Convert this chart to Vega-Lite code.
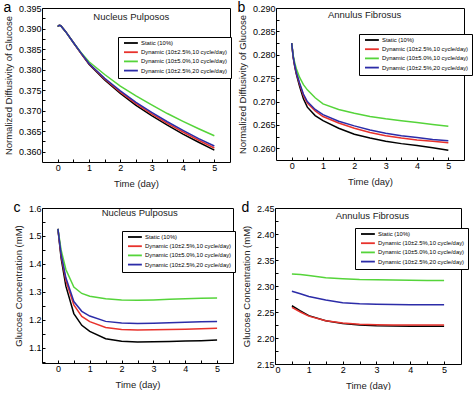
{
  "$schema": "https://vega.github.io/schema/vega-lite/v6.json",
  "background": "white",
  "padding": {"left": 2, "top": 0, "right": 0, "bottom": 0},
  "config": {
    "font": "Liberation Sans",
    "view": {"stroke": "black", "strokeWidth": 1},
    "axis": {"grid": false, "domain": false, "tickColor": "black", "tickSize": -3, "tickCount": 60, "labelFontSize": 9, "labelColor": "black", "labelOverlap": false, "titleFontSize": 9.5, "titleFontWeight": "normal", "titleColor": "#222", "labelPadding": 4, "titlePadding": 5},
    "axisX": {"labelPadding": 4, "titlePadding": 6},
    "legend": {"strokeColor": "black", "fillColor": "white", "padding": 3, "labelFontSize": 5.9, "labelColor": "black", "symbolType": "M0,0H8", "symbolSize": 12, "symbolStrokeWidth": 1.8, "rowPadding": 1.2, "labelOffset": 14, "labelLimit": 200},
    "title": {"fontSize": 14, "fontWeight": "normal", "color": "black", "anchor": "start", "frame": "bounds", "offset": -11}
  },
  "datasets": {
    "a": [
      {"s": "Static  (10%)", "t": 0, "v": 0.3905}, {"s": "Static  (10%)", "t": 0.05, "v": 0.3908}, {"s": "Static  (10%)", "t": 0.1, "v": 0.3907}, {"s": "Static  (10%)", "t": 0.25, "v": 0.3893}, {"s": "Static  (10%)", "t": 0.5, "v": 0.3866}, {"s": "Static  (10%)", "t": 0.75, "v": 0.3839}, {"s": "Static  (10%)", "t": 1, "v": 0.3813}, {"s": "Static  (10%)", "t": 1.5, "v": 0.3775}, {"s": "Static  (10%)", "t": 2, "v": 0.3742}, {"s": "Static  (10%)", "t": 2.5, "v": 0.3713}, {"s": "Static  (10%)", "t": 3, "v": 0.3688}, {"s": "Static  (10%)", "t": 3.5, "v": 0.3665}, {"s": "Static  (10%)", "t": 4, "v": 0.3643}, {"s": "Static  (10%)", "t": 4.5, "v": 0.3623}, {"s": "Static  (10%)", "t": 5, "v": 0.3604},
      {"s": "Dynamic (10±2.5%,10 cycle/day)", "t": 0, "v": 0.3905}, {"s": "Dynamic (10±2.5%,10 cycle/day)", "t": 0.05, "v": 0.3908}, {"s": "Dynamic (10±2.5%,10 cycle/day)", "t": 0.1, "v": 0.3907}, {"s": "Dynamic (10±2.5%,10 cycle/day)", "t": 0.25, "v": 0.3893}, {"s": "Dynamic (10±2.5%,10 cycle/day)", "t": 0.5, "v": 0.3866}, {"s": "Dynamic (10±2.5%,10 cycle/day)", "t": 0.75, "v": 0.3839}, {"s": "Dynamic (10±2.5%,10 cycle/day)", "t": 1, "v": 0.3814}, {"s": "Dynamic (10±2.5%,10 cycle/day)", "t": 1.5, "v": 0.3777}, {"s": "Dynamic (10±2.5%,10 cycle/day)", "t": 2, "v": 0.3745}, {"s": "Dynamic (10±2.5%,10 cycle/day)", "t": 2.5, "v": 0.3717}, {"s": "Dynamic (10±2.5%,10 cycle/day)", "t": 3, "v": 0.3692}, {"s": "Dynamic (10±2.5%,10 cycle/day)", "t": 3.5, "v": 0.3669}, {"s": "Dynamic (10±2.5%,10 cycle/day)", "t": 4, "v": 0.3648}, {"s": "Dynamic (10±2.5%,10 cycle/day)", "t": 4.5, "v": 0.3628}, {"s": "Dynamic (10±2.5%,10 cycle/day)", "t": 5, "v": 0.3609},
      {"s": "Dynamic (10±5.0%,10 cycle/day)", "t": 0, "v": 0.3905}, {"s": "Dynamic (10±5.0%,10 cycle/day)", "t": 0.05, "v": 0.3908}, {"s": "Dynamic (10±5.0%,10 cycle/day)", "t": 0.1, "v": 0.3907}, {"s": "Dynamic (10±5.0%,10 cycle/day)", "t": 0.25, "v": 0.3893}, {"s": "Dynamic (10±5.0%,10 cycle/day)", "t": 0.5, "v": 0.3866}, {"s": "Dynamic (10±5.0%,10 cycle/day)", "t": 0.75, "v": 0.3841}, {"s": "Dynamic (10±5.0%,10 cycle/day)", "t": 1, "v": 0.3819}, {"s": "Dynamic (10±5.0%,10 cycle/day)", "t": 1.5, "v": 0.3788}, {"s": "Dynamic (10±5.0%,10 cycle/day)", "t": 2, "v": 0.3760}, {"s": "Dynamic (10±5.0%,10 cycle/day)", "t": 2.5, "v": 0.3736}, {"s": "Dynamic (10±5.0%,10 cycle/day)", "t": 3, "v": 0.3714}, {"s": "Dynamic (10±5.0%,10 cycle/day)", "t": 3.5, "v": 0.3693}, {"s": "Dynamic (10±5.0%,10 cycle/day)", "t": 4, "v": 0.3674}, {"s": "Dynamic (10±5.0%,10 cycle/day)", "t": 4.5, "v": 0.3656}, {"s": "Dynamic (10±5.0%,10 cycle/day)", "t": 5, "v": 0.3639},
      {"s": "Dynamic (10±2.5%,20 cycle/day)", "t": 0, "v": 0.3905}, {"s": "Dynamic (10±2.5%,20 cycle/day)", "t": 0.05, "v": 0.3908}, {"s": "Dynamic (10±2.5%,20 cycle/day)", "t": 0.1, "v": 0.3907}, {"s": "Dynamic (10±2.5%,20 cycle/day)", "t": 0.25, "v": 0.3893}, {"s": "Dynamic (10±2.5%,20 cycle/day)", "t": 0.5, "v": 0.3866}, {"s": "Dynamic (10±2.5%,20 cycle/day)", "t": 0.75, "v": 0.3840}, {"s": "Dynamic (10±2.5%,20 cycle/day)", "t": 1, "v": 0.3815}, {"s": "Dynamic (10±2.5%,20 cycle/day)", "t": 1.5, "v": 0.3779}, {"s": "Dynamic (10±2.5%,20 cycle/day)", "t": 2, "v": 0.3748}, {"s": "Dynamic (10±2.5%,20 cycle/day)", "t": 2.5, "v": 0.3720}, {"s": "Dynamic (10±2.5%,20 cycle/day)", "t": 3, "v": 0.3696}, {"s": "Dynamic (10±2.5%,20 cycle/day)", "t": 3.5, "v": 0.3673}, {"s": "Dynamic (10±2.5%,20 cycle/day)", "t": 4, "v": 0.3652}, {"s": "Dynamic (10±2.5%,20 cycle/day)", "t": 4.5, "v": 0.3632}, {"s": "Dynamic (10±2.5%,20 cycle/day)", "t": 5, "v": 0.3614}
    ],
    "b": [
      {"s": "Static  (10%)", "t": 0, "v": 0.2825}, {"s": "Static  (10%)", "t": 0.05, "v": 0.2794}, {"s": "Static  (10%)", "t": 0.1, "v": 0.2774}, {"s": "Static  (10%)", "t": 0.15, "v": 0.2758}, {"s": "Static  (10%)", "t": 0.25, "v": 0.2733}, {"s": "Static  (10%)", "t": 0.375, "v": 0.2706}, {"s": "Static  (10%)", "t": 0.5, "v": 0.2688}, {"s": "Static  (10%)", "t": 0.75, "v": 0.2670}, {"s": "Static  (10%)", "t": 1, "v": 0.2659}, {"s": "Static  (10%)", "t": 1.5, "v": 0.2643}, {"s": "Static  (10%)", "t": 2, "v": 0.2630}, {"s": "Static  (10%)", "t": 2.5, "v": 0.2622}, {"s": "Static  (10%)", "t": 3, "v": 0.2615}, {"s": "Static  (10%)", "t": 3.5, "v": 0.2610}, {"s": "Static  (10%)", "t": 4, "v": 0.2606}, {"s": "Static  (10%)", "t": 4.5, "v": 0.2601}, {"s": "Static  (10%)", "t": 5, "v": 0.2596},
      {"s": "Dynamic (10±2.5%,10 cycle/day)", "t": 0, "v": 0.2825}, {"s": "Dynamic (10±2.5%,10 cycle/day)", "t": 0.05, "v": 0.2795}, {"s": "Dynamic (10±2.5%,10 cycle/day)", "t": 0.1, "v": 0.2776}, {"s": "Dynamic (10±2.5%,10 cycle/day)", "t": 0.15, "v": 0.2761}, {"s": "Dynamic (10±2.5%,10 cycle/day)", "t": 0.25, "v": 0.2738}, {"s": "Dynamic (10±2.5%,10 cycle/day)", "t": 0.375, "v": 0.2713}, {"s": "Dynamic (10±2.5%,10 cycle/day)", "t": 0.5, "v": 0.2697}, {"s": "Dynamic (10±2.5%,10 cycle/day)", "t": 0.75, "v": 0.2680}, {"s": "Dynamic (10±2.5%,10 cycle/day)", "t": 1, "v": 0.2668}, {"s": "Dynamic (10±2.5%,10 cycle/day)", "t": 1.5, "v": 0.2654}, {"s": "Dynamic (10±2.5%,10 cycle/day)", "t": 2, "v": 0.2643}, {"s": "Dynamic (10±2.5%,10 cycle/day)", "t": 2.5, "v": 0.2634}, {"s": "Dynamic (10±2.5%,10 cycle/day)", "t": 3, "v": 0.2627}, {"s": "Dynamic (10±2.5%,10 cycle/day)", "t": 3.5, "v": 0.2622}, {"s": "Dynamic (10±2.5%,10 cycle/day)", "t": 4, "v": 0.2618}, {"s": "Dynamic (10±2.5%,10 cycle/day)", "t": 4.5, "v": 0.2615}, {"s": "Dynamic (10±2.5%,10 cycle/day)", "t": 5, "v": 0.2612},
      {"s": "Dynamic (10±5.0%,10 cycle/day)", "t": 0, "v": 0.2825}, {"s": "Dynamic (10±5.0%,10 cycle/day)", "t": 0.05, "v": 0.2798}, {"s": "Dynamic (10±5.0%,10 cycle/day)", "t": 0.1, "v": 0.2782}, {"s": "Dynamic (10±5.0%,10 cycle/day)", "t": 0.15, "v": 0.2770}, {"s": "Dynamic (10±5.0%,10 cycle/day)", "t": 0.25, "v": 0.2752}, {"s": "Dynamic (10±5.0%,10 cycle/day)", "t": 0.375, "v": 0.2736}, {"s": "Dynamic (10±5.0%,10 cycle/day)", "t": 0.5, "v": 0.2725}, {"s": "Dynamic (10±5.0%,10 cycle/day)", "t": 0.75, "v": 0.2708}, {"s": "Dynamic (10±5.0%,10 cycle/day)", "t": 1, "v": 0.2695}, {"s": "Dynamic (10±5.0%,10 cycle/day)", "t": 1.5, "v": 0.2683}, {"s": "Dynamic (10±5.0%,10 cycle/day)", "t": 2, "v": 0.2675}, {"s": "Dynamic (10±5.0%,10 cycle/day)", "t": 2.5, "v": 0.2668}, {"s": "Dynamic (10±5.0%,10 cycle/day)", "t": 3, "v": 0.2663}, {"s": "Dynamic (10±5.0%,10 cycle/day)", "t": 3.5, "v": 0.2659}, {"s": "Dynamic (10±5.0%,10 cycle/day)", "t": 4, "v": 0.2655}, {"s": "Dynamic (10±5.0%,10 cycle/day)", "t": 4.5, "v": 0.2651}, {"s": "Dynamic (10±5.0%,10 cycle/day)", "t": 5, "v": 0.2647},
      {"s": "Dynamic (10±2.5%,20 cycle/day)", "t": 0, "v": 0.2825}, {"s": "Dynamic (10±2.5%,20 cycle/day)", "t": 0.05, "v": 0.2796}, {"s": "Dynamic (10±2.5%,20 cycle/day)", "t": 0.1, "v": 0.2777}, {"s": "Dynamic (10±2.5%,20 cycle/day)", "t": 0.15, "v": 0.2762}, {"s": "Dynamic (10±2.5%,20 cycle/day)", "t": 0.25, "v": 0.2740}, {"s": "Dynamic (10±2.5%,20 cycle/day)", "t": 0.375, "v": 0.2716}, {"s": "Dynamic (10±2.5%,20 cycle/day)", "t": 0.5, "v": 0.2700}, {"s": "Dynamic (10±2.5%,20 cycle/day)", "t": 0.75, "v": 0.2683}, {"s": "Dynamic (10±2.5%,20 cycle/day)", "t": 1, "v": 0.2672}, {"s": "Dynamic (10±2.5%,20 cycle/day)", "t": 1.5, "v": 0.2658}, {"s": "Dynamic (10±2.5%,20 cycle/day)", "t": 2, "v": 0.2648}, {"s": "Dynamic (10±2.5%,20 cycle/day)", "t": 2.5, "v": 0.2639}, {"s": "Dynamic (10±2.5%,20 cycle/day)", "t": 3, "v": 0.2632}, {"s": "Dynamic (10±2.5%,20 cycle/day)", "t": 3.5, "v": 0.2627}, {"s": "Dynamic (10±2.5%,20 cycle/day)", "t": 4, "v": 0.2623}, {"s": "Dynamic (10±2.5%,20 cycle/day)", "t": 4.5, "v": 0.2619}, {"s": "Dynamic (10±2.5%,20 cycle/day)", "t": 5, "v": 0.2616}
    ],
    "c": [
      {"s": "Static  (10%)", "t": 0, "v": 1.525}, {"s": "Static  (10%)", "t": 0.1, "v": 1.42}, {"s": "Static  (10%)", "t": 0.25, "v": 1.32}, {"s": "Static  (10%)", "t": 0.5, "v": 1.222}, {"s": "Static  (10%)", "t": 0.75, "v": 1.18}, {"s": "Static  (10%)", "t": 1, "v": 1.158}, {"s": "Static  (10%)", "t": 1.5, "v": 1.132}, {"s": "Static  (10%)", "t": 2, "v": 1.123}, {"s": "Static  (10%)", "t": 2.5, "v": 1.120}, {"s": "Static  (10%)", "t": 3, "v": 1.121}, {"s": "Static  (10%)", "t": 3.5, "v": 1.122}, {"s": "Static  (10%)", "t": 4, "v": 1.124}, {"s": "Static  (10%)", "t": 4.5, "v": 1.125}, {"s": "Static  (10%)", "t": 5, "v": 1.127},
      {"s": "Dynamic (10±2.5%,10 cycle/day)", "t": 0, "v": 1.525}, {"s": "Dynamic (10±2.5%,10 cycle/day)", "t": 0.1, "v": 1.43}, {"s": "Dynamic (10±2.5%,10 cycle/day)", "t": 0.25, "v": 1.34}, {"s": "Dynamic (10±2.5%,10 cycle/day)", "t": 0.5, "v": 1.253}, {"s": "Dynamic (10±2.5%,10 cycle/day)", "t": 0.75, "v": 1.212}, {"s": "Dynamic (10±2.5%,10 cycle/day)", "t": 1, "v": 1.193}, {"s": "Dynamic (10±2.5%,10 cycle/day)", "t": 1.5, "v": 1.172}, {"s": "Dynamic (10±2.5%,10 cycle/day)", "t": 2, "v": 1.165}, {"s": "Dynamic (10±2.5%,10 cycle/day)", "t": 2.5, "v": 1.163}, {"s": "Dynamic (10±2.5%,10 cycle/day)", "t": 3, "v": 1.164}, {"s": "Dynamic (10±2.5%,10 cycle/day)", "t": 3.5, "v": 1.165}, {"s": "Dynamic (10±2.5%,10 cycle/day)", "t": 4, "v": 1.166}, {"s": "Dynamic (10±2.5%,10 cycle/day)", "t": 4.5, "v": 1.168}, {"s": "Dynamic (10±2.5%,10 cycle/day)", "t": 5, "v": 1.169},
      {"s": "Dynamic (10±5.0%,10 cycle/day)", "t": 0, "v": 1.525}, {"s": "Dynamic (10±5.0%,10 cycle/day)", "t": 0.1, "v": 1.45}, {"s": "Dynamic (10±5.0%,10 cycle/day)", "t": 0.25, "v": 1.38}, {"s": "Dynamic (10±5.0%,10 cycle/day)", "t": 0.5, "v": 1.317}, {"s": "Dynamic (10±5.0%,10 cycle/day)", "t": 0.75, "v": 1.294}, {"s": "Dynamic (10±5.0%,10 cycle/day)", "t": 1, "v": 1.284}, {"s": "Dynamic (10±5.0%,10 cycle/day)", "t": 1.5, "v": 1.275}, {"s": "Dynamic (10±5.0%,10 cycle/day)", "t": 2, "v": 1.271}, {"s": "Dynamic (10±5.0%,10 cycle/day)", "t": 2.5, "v": 1.270}, {"s": "Dynamic (10±5.0%,10 cycle/day)", "t": 3, "v": 1.271}, {"s": "Dynamic (10±5.0%,10 cycle/day)", "t": 3.5, "v": 1.273}, {"s": "Dynamic (10±5.0%,10 cycle/day)", "t": 4, "v": 1.275}, {"s": "Dynamic (10±5.0%,10 cycle/day)", "t": 4.5, "v": 1.277}, {"s": "Dynamic (10±5.0%,10 cycle/day)", "t": 5, "v": 1.278},
      {"s": "Dynamic (10±2.5%,20 cycle/day)", "t": 0, "v": 1.525}, {"s": "Dynamic (10±2.5%,20 cycle/day)", "t": 0.1, "v": 1.435}, {"s": "Dynamic (10±2.5%,20 cycle/day)", "t": 0.25, "v": 1.35}, {"s": "Dynamic (10±2.5%,20 cycle/day)", "t": 0.5, "v": 1.265}, {"s": "Dynamic (10±2.5%,20 cycle/day)", "t": 0.75, "v": 1.23}, {"s": "Dynamic (10±2.5%,20 cycle/day)", "t": 1, "v": 1.213}, {"s": "Dynamic (10±2.5%,20 cycle/day)", "t": 1.5, "v": 1.194}, {"s": "Dynamic (10±2.5%,20 cycle/day)", "t": 2, "v": 1.188}, {"s": "Dynamic (10±2.5%,20 cycle/day)", "t": 2.5, "v": 1.186}, {"s": "Dynamic (10±2.5%,20 cycle/day)", "t": 3, "v": 1.187}, {"s": "Dynamic (10±2.5%,20 cycle/day)", "t": 3.5, "v": 1.189}, {"s": "Dynamic (10±2.5%,20 cycle/day)", "t": 4, "v": 1.191}, {"s": "Dynamic (10±2.5%,20 cycle/day)", "t": 4.5, "v": 1.193}, {"s": "Dynamic (10±2.5%,20 cycle/day)", "t": 5, "v": 1.194}
    ],
    "d": [
      {"s": "Static  (10%)", "t": 0.5, "v": 2.262}, {"s": "Static  (10%)", "t": 0.75, "v": 2.252}, {"s": "Static  (10%)", "t": 1, "v": 2.243}, {"s": "Static  (10%)", "t": 1.5, "v": 2.233}, {"s": "Static  (10%)", "t": 2, "v": 2.228}, {"s": "Static  (10%)", "t": 2.5, "v": 2.225}, {"s": "Static  (10%)", "t": 3, "v": 2.2235}, {"s": "Static  (10%)", "t": 3.5, "v": 2.223}, {"s": "Static  (10%)", "t": 4, "v": 2.2225}, {"s": "Static  (10%)", "t": 4.5, "v": 2.2225}, {"s": "Static  (10%)", "t": 5, "v": 2.2225},
      {"s": "Dynamic (10±2.5%,10 cycle/day)", "t": 0.5, "v": 2.259}, {"s": "Dynamic (10±2.5%,10 cycle/day)", "t": 0.75, "v": 2.25}, {"s": "Dynamic (10±2.5%,10 cycle/day)", "t": 1, "v": 2.242}, {"s": "Dynamic (10±2.5%,10 cycle/day)", "t": 1.5, "v": 2.233}, {"s": "Dynamic (10±2.5%,10 cycle/day)", "t": 2, "v": 2.229}, {"s": "Dynamic (10±2.5%,10 cycle/day)", "t": 2.5, "v": 2.2265}, {"s": "Dynamic (10±2.5%,10 cycle/day)", "t": 3, "v": 2.2255}, {"s": "Dynamic (10±2.5%,10 cycle/day)", "t": 3.5, "v": 2.225}, {"s": "Dynamic (10±2.5%,10 cycle/day)", "t": 4, "v": 2.225}, {"s": "Dynamic (10±2.5%,10 cycle/day)", "t": 4.5, "v": 2.225}, {"s": "Dynamic (10±2.5%,10 cycle/day)", "t": 5, "v": 2.225},
      {"s": "Dynamic (10±5.0%,10 cycle/day)", "t": 0.5, "v": 2.323}, {"s": "Dynamic (10±5.0%,10 cycle/day)", "t": 0.75, "v": 2.322}, {"s": "Dynamic (10±5.0%,10 cycle/day)", "t": 1, "v": 2.32}, {"s": "Dynamic (10±5.0%,10 cycle/day)", "t": 1.5, "v": 2.316}, {"s": "Dynamic (10±5.0%,10 cycle/day)", "t": 2, "v": 2.314}, {"s": "Dynamic (10±5.0%,10 cycle/day)", "t": 2.5, "v": 2.3125}, {"s": "Dynamic (10±5.0%,10 cycle/day)", "t": 3, "v": 2.312}, {"s": "Dynamic (10±5.0%,10 cycle/day)", "t": 3.5, "v": 2.3115}, {"s": "Dynamic (10±5.0%,10 cycle/day)", "t": 4, "v": 2.311}, {"s": "Dynamic (10±5.0%,10 cycle/day)", "t": 4.5, "v": 2.3105}, {"s": "Dynamic (10±5.0%,10 cycle/day)", "t": 5, "v": 2.3105},
      {"s": "Dynamic (10±2.5%,20 cycle/day)", "t": 0.5, "v": 2.29}, {"s": "Dynamic (10±2.5%,20 cycle/day)", "t": 0.75, "v": 2.285}, {"s": "Dynamic (10±2.5%,20 cycle/day)", "t": 1, "v": 2.28}, {"s": "Dynamic (10±2.5%,20 cycle/day)", "t": 1.5, "v": 2.273}, {"s": "Dynamic (10±2.5%,20 cycle/day)", "t": 2, "v": 2.268}, {"s": "Dynamic (10±2.5%,20 cycle/day)", "t": 2.5, "v": 2.266}, {"s": "Dynamic (10±2.5%,20 cycle/day)", "t": 3, "v": 2.265}, {"s": "Dynamic (10±2.5%,20 cycle/day)", "t": 3.5, "v": 2.2645}, {"s": "Dynamic (10±2.5%,20 cycle/day)", "t": 4, "v": 2.264}, {"s": "Dynamic (10±2.5%,20 cycle/day)", "t": 4.5, "v": 2.264}, {"s": "Dynamic (10±2.5%,20 cycle/day)", "t": 5, "v": 2.264}
    ]
  },
  "vconcat": [
    {
      "hconcat": [
        {
          "width": 188, "height": 154,
          "title": {"text": "a"},
          "layer": [
            {
              "data": {"name": "a"},
              "mark": {"type": "line", "strokeWidth": 1.5},
              "encoding": {
                "x": {"field": "t", "type": "quantitative", "scale": {"domain": [-0.5, 5.5], "nice": false}, "axis": {"title": "Time (day)", "tickCount": 60, "labelOverlap": false, "values": [0, 0.5, 1, 1.5, 2, 2.5, 3, 3.5, 4, 4.5, 5], "labelExpr": "datum.value % 1 == 0 ? format(datum.value, 'd') : ' '"}},
                "y": {"field": "v", "type": "quantitative", "scale": {"domain": [0.3575, 0.395], "nice": false, "zero": false}, "axis": {"title": "Normalized Diffusivity of Glucose", "tickCount": 60, "labelOverlap": false, "values": [0.36, 0.3625, 0.365, 0.3675, 0.37, 0.3725, 0.375, 0.3775, 0.38, 0.3825, 0.385, 0.3875, 0.39, 0.3925, 0.395], "labelExpr": "round(datum.value*1000) % 5 == 0 ? format(datum.value, '.3f') : ' '"}},
                "color": {"field": "s", "type": "nominal", "sort": null, "scale": {"domain": ["Static  (10%)", "Dynamic (10±2.5%,10 cycle/day)", "Dynamic (10±5.0%,10 cycle/day)", "Dynamic (10±2.5%,20 cycle/day)"], "range": ["#000000", "#e8322c", "#55d43a", "#2c2ca8"]}, "legend": {"title": null, "orient": "none", "legendX": 76, "legendY": 29}}
              }
            },
            {
              "data": {"values": [{"label": "Nucleus Pulposos"}]},
              "mark": {"type": "text", "fontSize": 9.5, "color": "#222"},
              "encoding": {"text": {"field": "label"}, "x": {"datum": 2.35}, "y": {"datum": 0.3929}}
            }
          ]
        },
        {
          "width": 188, "height": 152,
          "title": {"text": "b"},
          "layer": [
            {
              "data": {"name": "b"},
              "mark": {"type": "line", "strokeWidth": 1.5},
              "encoding": {
                "x": {"field": "t", "type": "quantitative", "scale": {"domain": [-0.5, 5.5], "nice": false}, "axis": {"title": "Time (day)", "tickCount": 60, "labelOverlap": false, "values": [0, 0.5, 1, 1.5, 2, 2.5, 3, 3.5, 4, 4.5, 5], "labelExpr": "datum.value % 1 == 0 ? format(datum.value, 'd') : ' '"}},
                "y": {"field": "v", "type": "quantitative", "scale": {"domain": [0.2575, 0.29], "nice": false, "zero": false}, "axis": {"title": "Normalized Diffusivity of Glucose", "tickCount": 60, "labelOverlap": false, "values": [0.26, 0.2625, 0.265, 0.2675, 0.27, 0.2725, 0.275, 0.2775, 0.28, 0.2825, 0.285, 0.2875, 0.29], "labelExpr": "round(datum.value*1000) % 5 == 0 ? format(datum.value, '.3f') : ' '"}},
                "color": {"field": "s", "type": "nominal", "sort": null, "scale": {"domain": ["Static  (10%)", "Dynamic (10±2.5%,10 cycle/day)", "Dynamic (10±5.0%,10 cycle/day)", "Dynamic (10±2.5%,20 cycle/day)"], "range": ["#000000", "#e8322c", "#55d43a", "#2c2ca8"]}, "legend": {"title": null, "orient": "none", "legendX": 83, "legendY": 26}}
              }
            },
            {
              "data": {"values": [{"label": "Annulus Fibrosus"}]},
              "mark": {"type": "text", "fontSize": 9.5, "color": "#222"},
              "encoding": {"text": {"field": "label"}, "x": {"datum": 2.33}, "y": {"datum": 0.2884}}
            }
          ]
        }
      ],
      "spacing": 4,
      "resolve": {"scale": {"color": "independent", "x": "independent", "y": "independent"}, "legend": {"color": "independent"}}
    },
    {
      "hconcat": [
        {
          "width": 191, "height": 155,
          "title": {"text": "c"},
          "layer": [
            {
              "data": {"name": "c"},
              "mark": {"type": "line", "strokeWidth": 1.5},
              "encoding": {
                "x": {"field": "t", "type": "quantitative", "scale": {"domain": [-0.5, 5.5], "nice": false}, "axis": {"title": "Time (day)", "tickCount": 60, "labelOverlap": false, "values": [0, 0.5, 1, 1.5, 2, 2.5, 3, 3.5, 4, 4.5, 5], "labelExpr": "datum.value % 1 == 0 ? format(datum.value, 'd') : ' '"}},
                "y": {"field": "v", "type": "quantitative", "scale": {"domain": [1.045, 1.6], "nice": false, "zero": false}, "axis": {"title": "Glucose Concentration (mM)", "tickCount": 60, "labelOverlap": false, "values": [1.05, 1.1, 1.15, 1.2, 1.25, 1.3, 1.35, 1.4, 1.45, 1.5, 1.55, 1.6], "labelExpr": "round(datum.value*100) % 10 == 0 ? format(datum.value, '.1f') : ' '"}},
                "color": {"field": "s", "type": "nominal", "sort": null, "scale": {"domain": ["Static  (10%)", "Dynamic (10±2.5%,10 cycle/day)", "Dynamic (10±5.0%,10 cycle/day)", "Dynamic (10±2.5%,20 cycle/day)"], "range": ["#000000", "#e8322c", "#55d43a", "#2c2ca8"]}, "legend": {"title": null, "orient": "none", "legendX": 80, "legendY": 23}}
              }
            },
            {
              "data": {"values": [{"label": "Nucleus Pulposus"}]},
              "mark": {"type": "text", "fontSize": 9.5, "color": "#222"},
              "encoding": {"text": {"field": "label"}, "x": {"datum": 2.57}, "y": {"datum": 1.582}}
            }
          ]
        },
        {
          "width": 186, "height": 156,
          "title": {"text": "d"},
          "layer": [
            {
              "data": {"name": "d"},
              "mark": {"type": "line", "strokeWidth": 1.5},
              "encoding": {
                "x": {"field": "t", "type": "quantitative", "scale": {"domain": [0, 5.5], "nice": false}, "axis": {"title": "Time (day)", "tickCount": 60, "labelOverlap": false, "values": [0, 0.5, 1, 1.5, 2, 2.5, 3, 3.5, 4, 4.5, 5], "labelExpr": "datum.value % 1 == 0 ? format(datum.value, 'd') : ' '"}},
                "y": {"field": "v", "type": "quantitative", "scale": {"domain": [2.15, 2.45], "nice": false, "zero": false}, "axis": {"title": "Glucose Concentration (mM)", "tickCount": 60, "labelOverlap": false, "values": [2.15, 2.175, 2.2, 2.225, 2.25, 2.275, 2.3, 2.325, 2.35, 2.375, 2.4, 2.425, 2.45], "labelExpr": "round(datum.value*1000) % 50 == 0 ? format(datum.value, '.2f') : ' '"}},
                "color": {"field": "s", "type": "nominal", "sort": null, "scale": {"domain": ["Static  (10%)", "Dynamic (10±2.5%,10 cycle/day)", "Dynamic (10±5.0%,10 cycle/day)", "Dynamic (10±2.5%,20 cycle/day)"], "range": ["#000000", "#e8322c", "#55d43a", "#2c2ca8"]}, "legend": {"title": null, "orient": "none", "legendX": 80, "legendY": 20}}
              }
            },
            {
              "data": {"values": [{"label": "Annulus Fibrosus"}]},
              "mark": {"type": "text", "fontSize": 9.5, "color": "#222"},
              "encoding": {"text": {"field": "label"}, "x": {"datum": 2.88}, "y": {"datum": 2.4355}}
            }
          ]
        }
      ],
      "spacing": 4,
      "resolve": {"scale": {"color": "independent", "x": "independent", "y": "independent"}, "legend": {"color": "independent"}}
    }
  ],
  "spacing": 12,
  "resolve": {"scale": {"color": "independent", "x": "independent", "y": "independent"}, "legend": {"color": "independent"}}
}
